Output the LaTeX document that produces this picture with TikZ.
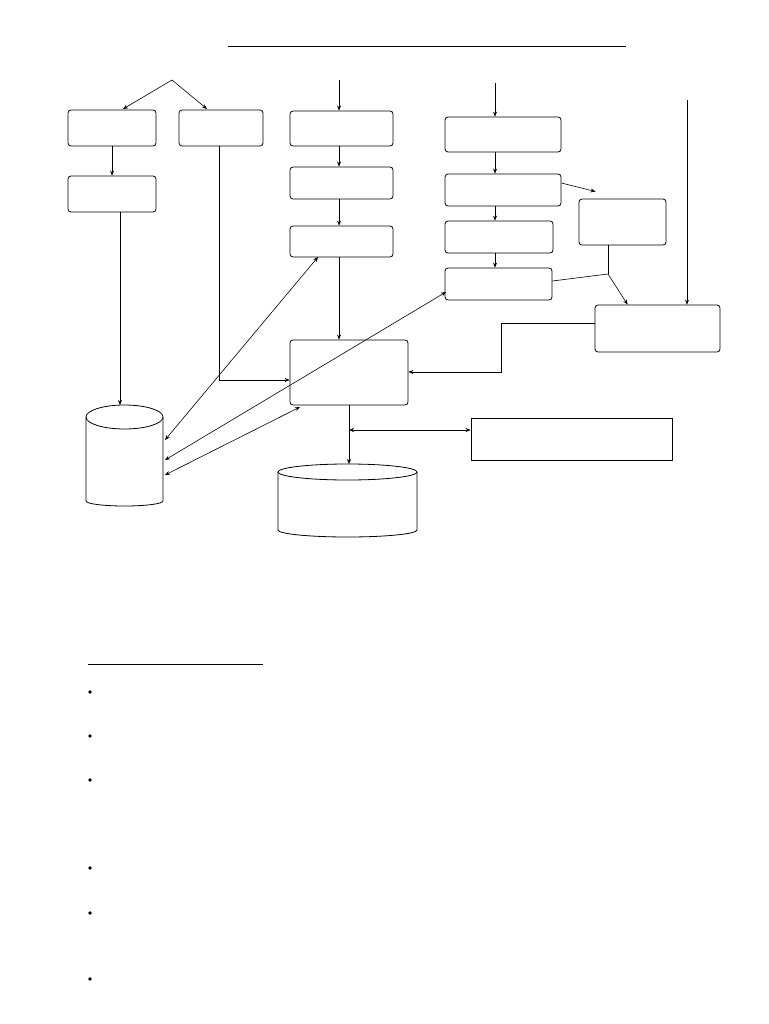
\documentclass[tikz,border=0pt]{standalone}
\usetikzlibrary{arrows.meta}
\begin{document}
\begin{tikzpicture}[x=1pt,y=-1pt,
  bx/.style={draw,rounded corners=3pt,line width=0.8pt},
  ln/.style={line width=0.6pt},
  cyl/.style={line width=0.8pt},
  ar/.style={ln,-{Stealth[length=5pt,width=4pt]}},
  da/.style={ln,{Stealth[length=5pt,width=4pt]}-{Stealth[length=5pt,width=4pt]}}]
\useasboundingbox (0,0) rectangle (768,1024);
\draw[ln] (228,46) coordinate (tl) -- (626,46) coordinate (tr);
\coordinate (s1) at (172,80);
\node[bx,minimum width=88pt,minimum height=36pt] (A1) at (112,128) {};
\node[bx,minimum width=88pt,minimum height=36pt] (A2) at (112,194) {};
\node[bx,minimum width=84pt,minimum height=36pt] (B) at (221,128) {};
\node[bx,minimum width=103pt,minimum height=35pt] (C1) at (341.5,128.5) {};
\node[bx,minimum width=103pt,minimum height=32pt] (C2) at (341.5,183) {};
\node[bx,minimum width=103pt,minimum height=31pt] (C3) at (341.5,241.5) {};
\node[bx,minimum width=116pt,minimum height=35pt] (D1) at (503,134.5) {};
\node[bx,minimum width=116pt,minimum height=32pt] (D2) at (503,190) {};
\node[bx,minimum width=108pt,minimum height=32pt] (D3) at (499,237) {};
\node[bx,minimum width=107pt,minimum height=32pt] (D4) at (498.5,284) {};
\node[bx,minimum width=87pt,minimum height=46pt] (E) at (622.5,222) {};
\node[bx,minimum width=125pt,minimum height=47pt] (F) at (657.5,328.5) {};
\node[bx,minimum width=118pt,minimum height=65pt] (M) at (349,372.5) {};
\node[draw,line width=0.8pt,minimum width=201pt,minimum height=42pt] (G) at (571.5,439) {};
% cylinders
\draw[cyl] (124.5,417) ellipse [x radius=38.5, y radius=12];
\draw[cyl] (86,417) -- (86,501) arc[start angle=180,end angle=0,x radius=38.5,y radius=5] -- (163,417);
\coordinate (Ltop) at (124.5,405);
\draw[cyl] (347.5,472) ellipse [x radius=69.5, y radius=8];
\draw[cyl] (278,472) -- (278,530) arc[start angle=180,end angle=0,x radius=69.5,y radius=7] -- (417,472);
\coordinate (Rtop) at (349,464);
% arrows
\draw[ar] (s1) -- (123,109);
\draw[ar] (s1) -- (207,109);
\draw[ar] (A1) -- (A2);
\coordinate (ct) at (339,80); \draw[ar] (ct) -- (C1.north -| ct);
\draw[ar] (C1.south -| ct) -- (C2.north -| ct);
\draw[ar] (C2.south -| ct) -- (C3.north -| ct);
\draw[ar] (C3.south -| ct) -- (M.north -| ct);
\coordinate (dt) at (495,83); \draw[ar] (dt) -- (D1.north -| dt);
\draw[ar] (D1.south -| dt) -- (D2.north -| dt);
\draw[ar] (D2.south -| dt) -- (D3.north -| dt);
\draw[ar] (D3.south -| dt) -- (D4.north -| dt);
\draw[ar] (D2.east) ++(0,-7) -- ([xshift=17pt,yshift=7pt]E.north west);
\coordinate (j) at (608,274);
\draw[ln] ([yshift=3pt]D4.east) -- (j);
\draw[ln] (E.south -| j) -- (j);
\draw[ar] (j) -- ([xshift=33pt]F.north west);
\coordinate (ft) at (687,100); \draw[ar] (ft) -- (F.north -| ft);
\coordinate (k1) at (501,323); \coordinate (k2) at (501,372);
\draw[ar] (F.west |- k1) -- (k1) -- (k2) -- (M.east |- k2);
\draw[ar] (A2.south -| 120,0) -- (120,405);
\coordinate (b1) at (219,380);
\draw[ar] (B.south -| b1) -- (b1) -- (M.west |- b1);
\draw[da] (165,440) -- (318,257);
\draw[da] (165,460) -- (446,292);
\draw[da] (165,475) -- (300,407);
\draw[ar] (M.south -| Rtop) -- (Rtop);
\draw[da] (349,430) -- (G.west |- 349,430);
% bottom section
\draw[ln] (88,664) -- (263,664);
\foreach \yy in {692,736,780,868,913,979}
  \fill (90,\yy) circle (1.8pt);
\end{tikzpicture}
\end{document}
